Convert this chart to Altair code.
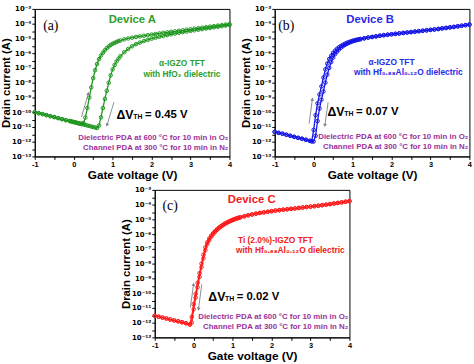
import altair as alt
import pandas as pd

# ---------------- data (log10 of drain current, A) ----------------
V_GRID = ([-1.0, -0.9, -0.8, -0.7, -0.6, -0.5, -0.4, -0.3, -0.2, -0.1, -0.05]
          + [0.0, 0.05, 0.1, 0.15, 0.2, 0.25, 0.3, 0.35, 0.4, 0.45, 0.5, 0.55, 0.6, 0.65,
             0.7, 0.75, 0.8, 0.85, 0.9, 0.95, 1.0, 1.05, 1.1, 1.15, 1.2]
          + [1.3, 1.4, 1.5, 1.6, 1.7, 1.8, 1.9, 2.0, 2.1, 2.2, 2.3, 2.4, 2.5, 2.6, 2.7,
             2.8, 2.9, 3.0, 3.1, 3.2, 3.3, 3.4, 3.5, 3.6, 3.7, 3.8, 3.9, 4.0])

A_FWD = [-10.00, -10.07, -10.13, -10.20, -10.27, -10.33, -10.40, -10.47, -10.54, -10.60, -10.64,
         -10.67, -10.70, -10.74, -10.77, -10.80, -10.74, -10.37, -9.71, -9.01, -8.32, -7.69, -7.16,
         -6.73, -6.40, -6.16, -5.97, -5.80, -5.66, -5.54, -5.44, -5.36, -5.30, -5.24, -5.18, -5.14,
         -5.06, -5.00, -4.95, -4.90, -4.86, -4.82, -4.78, -4.74, -4.70, -4.66, -4.62, -4.59, -4.55,
         -4.52, -4.48, -4.45, -4.41, -4.38, -4.34, -4.31, -4.27, -4.24, -4.20, -4.17, -4.13, -4.10,
         -4.06, -4.03]
A_REV = [-10.00, -10.07, -10.13, -10.20, -10.27, -10.33, -10.40, -10.47, -10.54, -10.60, -10.64,
         -10.67, -10.70, -10.74, -10.77, -10.80, -10.83, -10.87, -10.90, -10.93, -10.97, -11.00, -11.04,
         -11.07, -10.90, -10.35, -9.72, -9.10, -8.55, -8.00, -7.50, -7.10, -6.80, -6.56, -6.37, -6.20,
         -5.93, -5.71, -5.53, -5.39, -5.28, -5.18, -5.10, -5.02, -4.95, -4.89, -4.83, -4.77, -4.72,
         -4.67, -4.62, -4.57, -4.53, -4.49, -4.45, -4.41, -4.37, -4.33, -4.29, -4.25, -4.21, -4.17,
         -4.13, -4.09]
B_FWD = [-11.33, -11.40, -11.46, -11.53, -11.60, -11.67, -11.74, -11.80, -11.87, -11.94, -11.97,
         -11.20, -10.20, -9.40, -8.80, -8.25, -7.65, -7.10, -6.70, -6.40, -6.17, -5.98, -5.83,
         -5.70, -5.60, -5.51, -5.43, -5.36, -5.30, -5.25, -5.20, -5.16, -5.12, -5.09, -5.06, -5.03,
         -4.98, -4.93, -4.89, -4.85, -4.81, -4.77, -4.74, -4.71, -4.68, -4.65, -4.62, -4.59, -4.56,
         -4.53, -4.50, -4.47, -4.44, -4.41, -4.38, -4.35, -4.31, -4.28, -4.24, -4.21, -4.17, -4.13,
         -4.09, -4.05]
B_REV = [-11.33, -11.40, -11.46, -11.53, -11.60, -11.67, -11.74, -11.80, -11.87, -11.94, -11.98,
         -11.99, -11.60, -10.60, -9.75, -9.15, -8.60, -8.00, -7.45, -7.00, -6.60, -6.30, -6.07,
         -5.90, -5.75, -5.63, -5.53, -5.44, -5.37, -5.30, -5.25, -5.20, -5.16, -5.12, -5.09, -5.06,
         -5.00, -4.95, -4.91, -4.87, -4.83, -4.79, -4.76, -4.73, -4.70, -4.67, -4.64, -4.61, -4.58,
         -4.55, -4.52, -4.49, -4.46, -4.43, -4.40, -4.37, -4.33, -4.30, -4.26, -4.23, -4.19, -4.15,
         -4.11, -4.07]
C_FWD = [-11.54, -11.60, -11.66, -11.72, -11.79, -11.85, -11.91, -11.97, -12.04, -12.12, -11.60,
         -10.75, -10.05, -9.30, -8.65, -8.00, -7.40, -6.90, -6.55, -6.30, -6.10, -5.94, -5.80,
         -5.67, -5.56, -5.46, -5.37, -5.29, -5.22, -5.15, -5.09, -5.03, -4.98, -4.93, -4.89, -4.85,
         -4.78, -4.72, -4.66, -4.61, -4.56, -4.52, -4.48, -4.44, -4.40, -4.37, -4.34, -4.31, -4.28,
         -4.25, -4.22, -4.19, -4.16, -4.13, -4.10, -4.07, -4.03, -4.00, -3.96, -3.92, -3.88, -3.84,
         -3.80, -3.76]
C_REV = [-11.54, -11.60, -11.66, -11.72, -11.79, -11.85, -11.91, -11.97, -12.04, -12.14, -12.00,
         -11.10, -10.30, -9.60, -8.90, -8.25, -7.65, -7.10, -6.68, -6.40, -6.17, -6.00, -5.85,
         -5.71, -5.59, -5.49, -5.40, -5.31, -5.24, -5.17, -5.11, -5.05, -5.00, -4.95, -4.91, -4.87,
         -4.80, -4.73, -4.67, -4.62, -4.57, -4.53, -4.49, -4.45, -4.41, -4.38, -4.35, -4.32, -4.29,
         -4.26, -4.23, -4.20, -4.17, -4.14, -4.11, -4.08, -4.04, -4.01, -3.97, -3.93, -3.89, -3.85,
         -3.81, -3.77]

Y_TICKS = [-13, -12, -11, -10, -9, -8, -7, -6, -5, -4, -3]
Y_TICK_LABELS = ["10⁻¹³", "10⁻¹²", "10⁻¹¹", "10⁻¹⁰", "10⁻⁹", "10⁻⁸", "10⁻⁷",
                 "10⁻⁶", "10⁻⁵", "10⁻⁴", "10⁻³"]
X_TICKS = [-1, 0, 1, 2, 3, 4]
X_TICK_LABELS = ["-1", "0", "1", "2", "3", "4"]

DEVICES = ["Device A", "Device B", "Device C"]
PANEL_TAGS = ["(a)", "(b)", "(c)"]
DEV_LINE1 = ["α-IGZO TFT", "α-IGZO TFT", "Ti (2.0%)-IGZO TFT"]
DEV_LINE2 = ["with HfO₂ dielectric", "with Hf₀.₈₈Al₀.₁₂O dielectric", "with Hf₀.₈₈Al₀.₁₂O dielectric"]
DVTH = ["= 0.45 V", "= 0.07 V", "= 0.02 V"]
PDA1 = "Dielectric PDA at 600 °C for 10 min in O₂"
PDA2 = "Channel PDA at 300 °C for 10 min in N₂"

# ---------------- styling / layout ----------------
LINE_COLORS = ["#1e961e", "#1414e6", "#ff1a1a"]
TEXT_COLORS = ["#2e9e2e", "#2a2ae8", "#f02020"]
PURPLE = "#9a2f9a"
ARROW = "#808080"
W, H = 198, 150
SANS = "Liberation Sans"


def label_expr(vals, labs):
    parts = [f"datum.value == {v} ? '{l}'" for v, l in zip(vals, labs)]
    return " : ".join(parts) + " : ''"


x_minor = [v / 2 for v in range(-2, 9)]
y_minor = [v / 2 for v in range(-26, -5)]

xaxis = alt.Axis(title="Gate voltage (V)", values=x_minor,
                 labelExpr=label_expr(X_TICKS, X_TICK_LABELS), grid=False,
                 tickSize=3, labelPadding=1, labelFontSize=7.5, labelFontWeight="bold",
                 labelFont=SANS, titleFont=SANS, titleFontSize=12, titleFontWeight="bold",
                 titlePadding=2, labelFlush=False, labelOverlap=False, titleColor="black",
                 labelColor="black")
yaxis = alt.Axis(title="Drain current (A)", values=y_minor,
                 labelExpr=label_expr(Y_TICKS, Y_TICK_LABELS), grid=False,
                 tickSize=3, labelPadding=1, labelFontSize=7, labelFontWeight="bold",
                 labelFont="DejaVu Sans", titleFont=SANS, titleFontSize=11.5,
                 titleFontWeight="bold", titlePadding=0, labelFlush=False,
                 labelOverlap=False, titleColor="black", labelColor="black")

xs = alt.Scale(domain=[-1, 4], nice=False)
ys = alt.Scale(domain=[-13, -3], nice=False)

# annotation placement in data coordinates (V, log10 I) per panel
ANN = [
    dict(tag=(-0.785, -4.13), dev=(1.505, -3.73), l1=(2.78, -6.70), l2=(2.78, -7.40),
         dv=(1.10, -10.2), p1=-11.75, p2=-12.4,
         up=(0.20, -10.33, 0.376, -8.73, 16), dn=(1.033, -9.33, 0.856, -10.87, 197)),
    dict(tag=(-0.91, -4.13), dev=(1.45, -3.73), l1=(2.0, -6.60), l2=(2.43, -7.27),
         dv=(0.356, -10.0), p1=-11.67, p2=-12.33,
         up=(-0.116, -10.78, -0.033, -9.11, 8), dn=(0.371, -9.33, 0.288, -10.89, 188)),
    dict(tag=(-0.8, -4.07), dev=(1.49, -3.70), l1=(2.1, -6.4), l2=(2.48, -7.08),
         dv=(0.376, -10.25), p1=-11.63, p2=-12.33,
         up=(-0.086, -10.97, -0.003, -9.41, 8), dn=(0.207, -9.41, 0.124, -11.08, 188)),
]


def text_layer(txt, x, y, **kw):
    df = pd.DataFrame({"V": [x], "L": [y], "t": [txt]})
    return alt.Chart(df).mark_text(baseline="middle", **kw).encode(
        x=alt.X("V:Q", scale=xs, axis=xaxis), y=alt.Y("L:Q", scale=ys, axis=yaxis),
        text="t:N")


def panel(i, fwd, rev):
    rows = [(v, l, "forward") for v, l in zip(V_GRID, fwd)] + \
           [(v, l, "reverse") for v, l in zip(V_GRID, rev)]
    df = pd.DataFrame(rows, columns=["V", "logI", "sweep"])
    base = alt.Chart(df)
    enc = dict(x=alt.X("V:Q", scale=xs, axis=xaxis), y=alt.Y("logI:Q", scale=ys, axis=yaxis))
    lines = base.mark_line(color=LINE_COLORS[i], strokeWidth=1.3).encode(detail="sweep:N", **enc)
    pts = base.mark_point(shape="circle", filled=False, color=LINE_COLORS[i], size=13,
                          strokeWidth=1.0, opacity=1).encode(**enc)
    a = ANN[i]
    arrows = []
    for key in ("up", "dn"):
        x1, y1, x2, y2, ang = a[key]
        adf = pd.DataFrame({"V": [x1], "L": [y1], "V2": [x2], "L2": [y2], "ang": [ang]})
        arrows.append(alt.Chart(adf).mark_rule(color=ARROW, strokeWidth=0.9).encode(
            x=alt.X("V:Q", scale=xs, axis=xaxis), y=alt.Y("L:Q", scale=ys, axis=yaxis),
            x2="V2:Q", y2="L2:Q"))
        arrows.append(alt.Chart(adf).mark_point(shape="triangle-up", filled=True, color=ARROW,
                                                size=14, opacity=1).encode(
            x=alt.X("V2:Q", scale=xs, axis=xaxis), y=alt.Y("L2:Q", scale=ys, axis=yaxis),
            angle=alt.Angle("ang:Q", scale=None)))
    texts = [
        text_layer(PANEL_TAGS[i], *a["tag"], align="left", font="Liberation Serif",
                   fontSize=14, color="black"),
        text_layer(DEVICES[i], *a["dev"], align="center", font=SANS, fontSize=11.5,
                   fontWeight="bold", color=TEXT_COLORS[i]),
        text_layer(DEV_LINE1[i], *a["l1"], align="center", font=SANS, fontSize=8.5,
                   fontWeight="bold", color=TEXT_COLORS[i]),
        text_layer(DEV_LINE2[i], *a["l2"], align="center", font=SANS, fontSize=8.5,
                   fontWeight="bold", color=TEXT_COLORS[i]),
        text_layer("ΔV", *a["dv"], align="left", font=SANS, fontSize=12.5,
                   fontWeight="bold", color="black"),
        text_layer("TH", *a["dv"], align="left", font=SANS, fontSize=7, dx=17, dy=2,
                   fontWeight="bold", color="black"),
        text_layer(DVTH[i], *a["dv"], align="left", font=SANS, fontSize=11.5, dx=29,
                   fontWeight="bold", color="black"),
        text_layer(PDA1, 3.97, a["p1"], align="right", font=SANS, fontSize=8,
                   fontWeight="bold", color=PURPLE),
        text_layer(PDA2, 3.97, a["p2"], align="right", font=SANS, fontSize=8,
                   fontWeight="bold", color=PURPLE),
    ]
    return alt.layer(lines, pts, *arrows, *texts).properties(width=W, height=H)


pa = panel(0, A_FWD, A_REV)
pb = panel(1, B_FWD, B_REV)
pc = panel(2, C_FWD, C_REV)

chart = alt.vconcat(alt.hconcat(pa, pb, spacing=5), pc, spacing=4, center=True).properties(
    padding={"left": 0, "top": 1, "right": 0, "bottom": 0}, background="white"
).configure_view(stroke="black", strokeWidth=1).configure_axis(
    domainColor="black", tickColor="black", domainWidth=1)

chart.save("out.html", embed_options={"renderer": "svg", "actions": False})
